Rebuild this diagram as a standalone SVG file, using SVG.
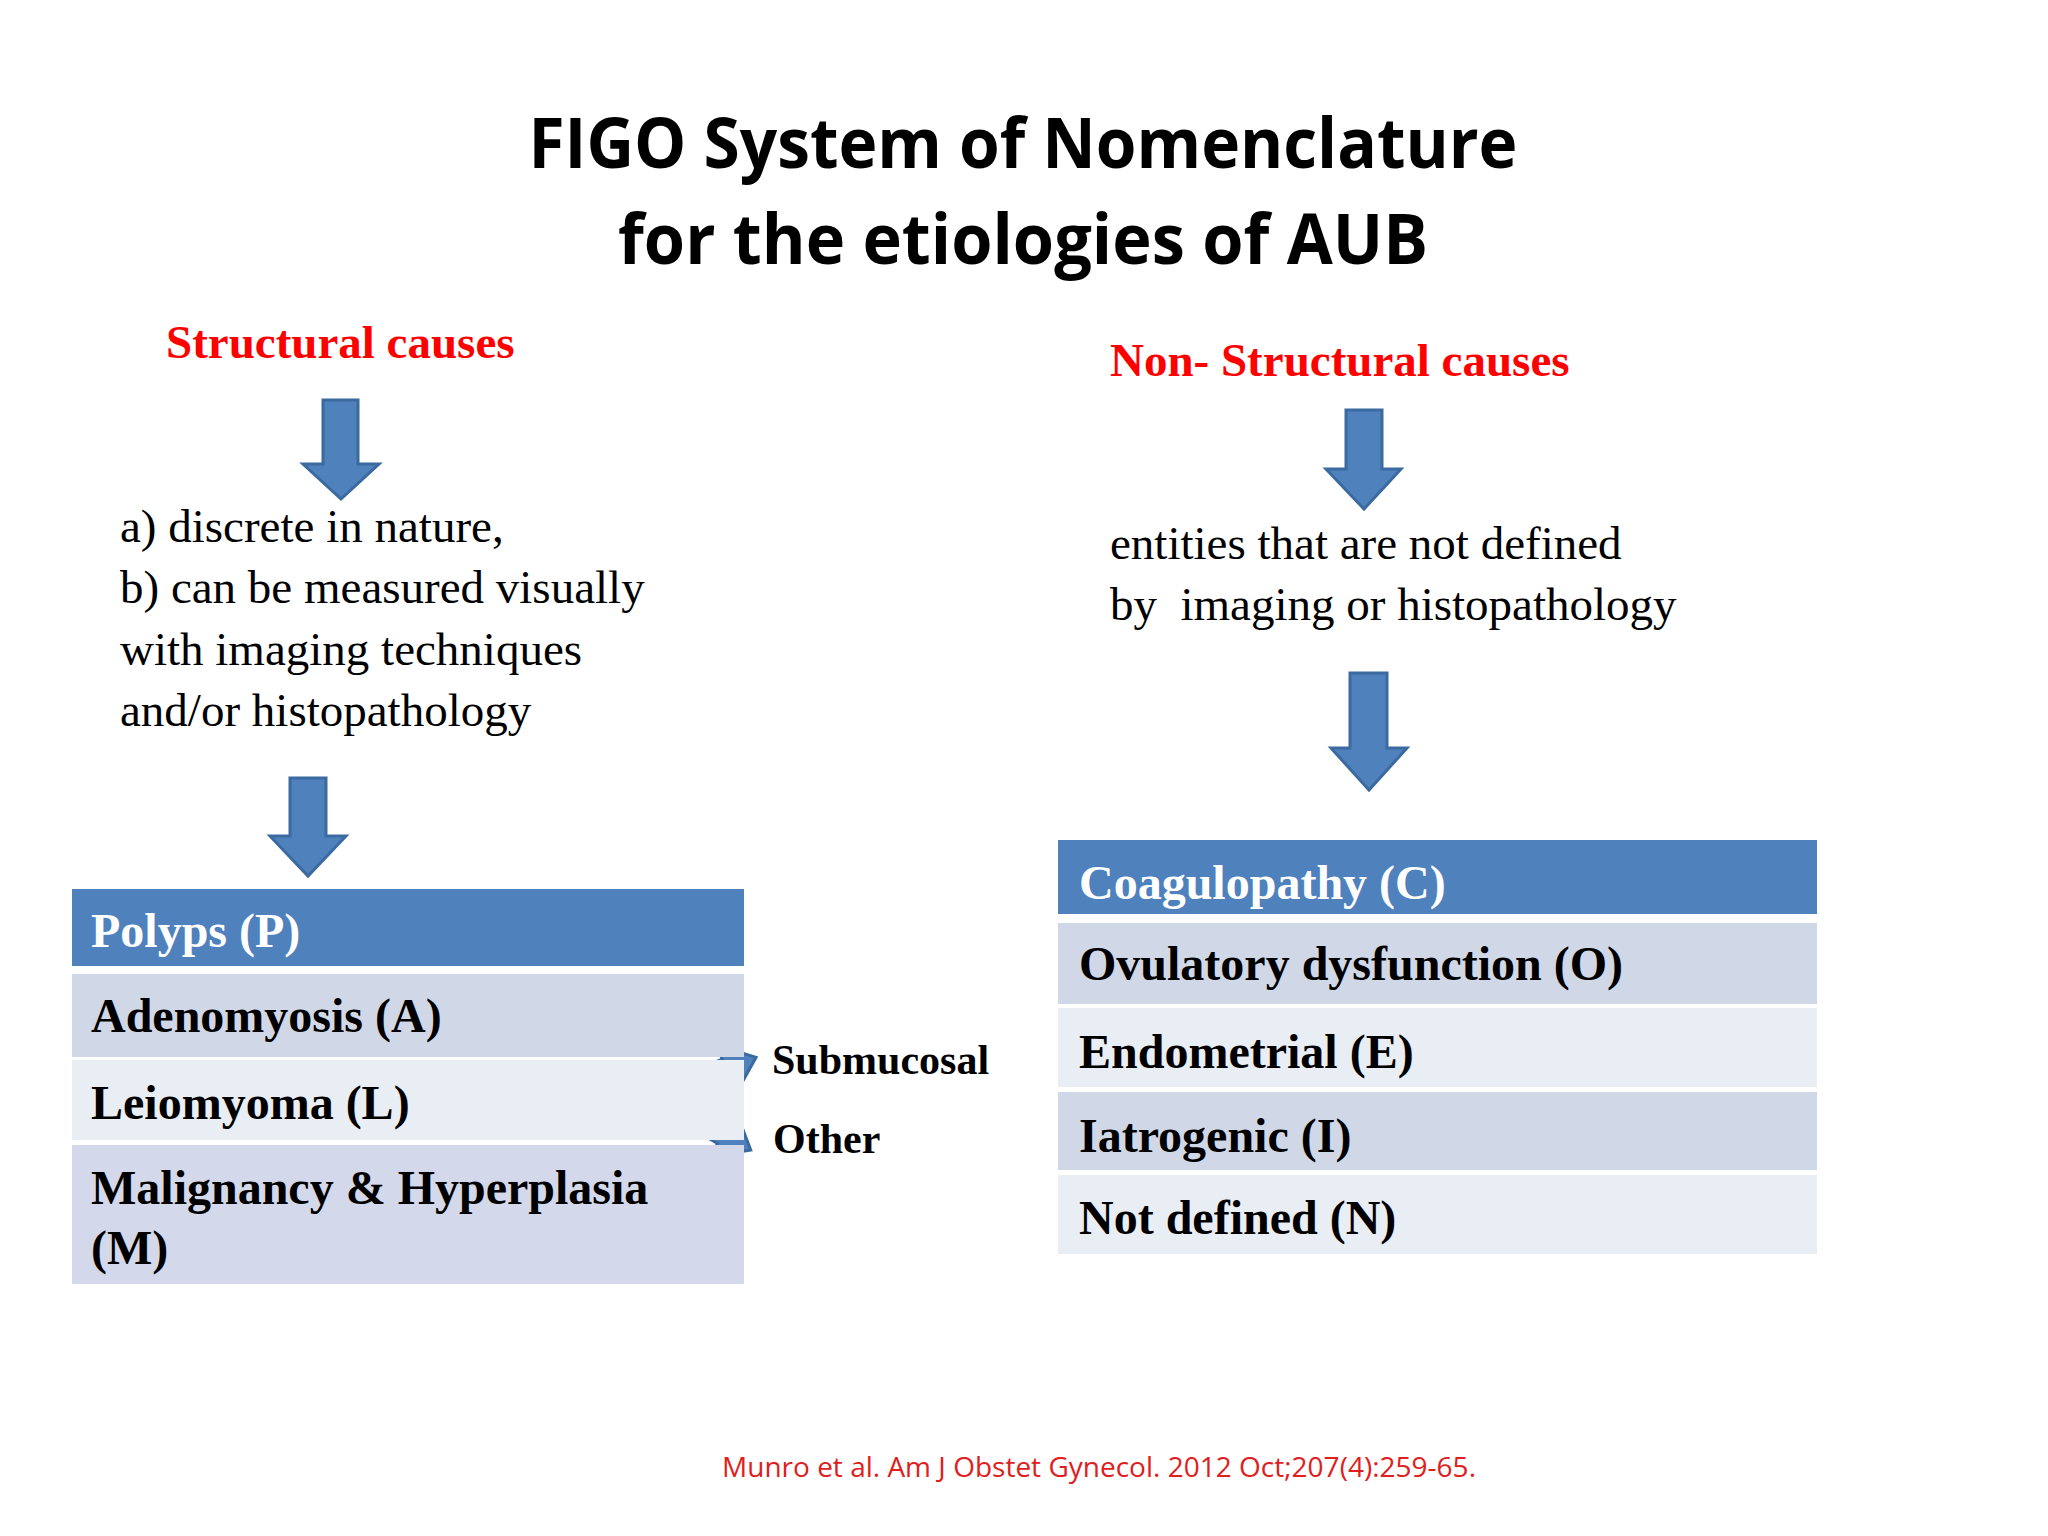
<svg xmlns="http://www.w3.org/2000/svg" width="2048" height="1536" viewBox="0 0 2048 1536">
<style>
.title{font-family:"Open Sans","Liberation Sans",sans-serif;font-weight:bold;font-size:70px;fill:#000}
.red{font-family:"Liberation Serif",serif;font-weight:bold;font-size:47px;fill:#ff0000}
.body{font-family:"Liberation Serif",serif;font-size:47px;fill:#000}
.cell{font-family:"Liberation Serif",serif;font-weight:bold;font-size:48px;fill:#000}
.hcell{font-family:"Liberation Serif",serif;font-weight:bold;font-size:48px;fill:#fff}
.lbl{font-family:"Liberation Serif",serif;font-weight:bold;font-size:42px;fill:#000}
.arr{fill:#4f81bd;stroke:#3b6aa0;stroke-width:3}
.hd{fill:#4f81bd}.r1{fill:#d0d8e8}.r2{fill:#e9edf4}.r3{fill:#d3d9ea}
</style>
<rect width="2048" height="1536" fill="#fff"/>
<text class="title" x="1023" y="168" text-anchor="middle" textLength="989" lengthAdjust="spacingAndGlyphs">FIGO System of Nomenclature</text>
<text class="title" x="1023" y="264" text-anchor="middle" textLength="810" lengthAdjust="spacingAndGlyphs">for the etiologies of AUB</text>
<text class="red" x="166" y="358">Structural causes</text>
<text class="red" x="1110" y="376">Non- Structural causes</text>
<g id="left-desc"><text class="body" x="120" y="542">a) discrete in nature,</text>
<text class="body" x="120" y="603">b) can be measured visually</text>
<text class="body" x="120" y="665">with imaging techniques</text>
<text class="body" x="120" y="726">and/or histopathology</text></g>
<g id="right-desc"><text class="body" x="1110" y="559">entities that are not defined</text>
<text class="body" x="1110" y="620" xml:space="preserve">by  imaging or histopathology</text></g>
<g id="connectors">
<polygon class="arr" points="323,400 358,400 358,464 379,464 341,499 303,464 323,464"/>
<polygon class="arr" points="290,778 326,778 326,836 346,836 308,876 270,836 290,836"/>
<polygon class="arr" points="1346,410 1382,410 1382,469 1401,469 1364,509 1326,469 1346,469"/>
<polygon class="arr" points="1350,673 1387,673 1387,748 1407,748 1369,790 1331,748 1350,748"/>
<polygon class="arr" transform="translate(680,1088) rotate(-22)" points="0,-11 50,-11 50,-26 82,0 50,26 50,11 0,11"/>
<polygon class="arr" transform="translate(678,1108) rotate(30)" points="0,-11 52,-11 52,-26 84,0 52,26 52,11 0,11"/>
</g>
<g id="left-table">
<rect class="hd" x="72" y="889" width="672" height="77"/><text class="hcell" x="91" y="947">Polyps (P)</text>
<rect class="r1" x="72" y="974" width="672" height="83"/><text class="cell" x="91" y="1032">Adenomyosis (A)</text>
<rect class="r2" x="72" y="1060" width="672" height="80"/><text class="cell" x="91" y="1119">Leiomyoma (L)</text>
<rect class="r3" x="72" y="1145" width="672" height="139"/><text class="cell" x="91" y="1204">Malignancy &amp; Hyperplasia</text><text class="cell" x="91" y="1264">(M)</text>
</g>
<text class="lbl" x="772" y="1074">Submucosal</text>
<text class="lbl" x="773" y="1153">Other</text>
<g id="right-table">
<rect class="hd" x="1058" y="840" width="759" height="74"/><text class="hcell" x="1079" y="899">Coagulopathy (C)</text>
<rect class="r1" x="1058" y="923" width="759" height="81"/><text class="cell" x="1079" y="980">Ovulatory dysfunction (O)</text>
<rect class="r2" x="1058" y="1008" width="759" height="79"/><text class="cell" x="1079" y="1068">Endometrial (E)</text>
<rect class="r1" x="1058" y="1092" width="759" height="78"/><text class="cell" x="1079" y="1152">Iatrogenic (I)</text>
<rect class="r2" x="1058" y="1175" width="759" height="79"/><text class="cell" x="1079" y="1234">Not defined (N)</text>
</g>
<text x="1099" y="1477" text-anchor="middle" font-family="Open Sans, Liberation Sans, sans-serif" font-size="27" fill="#e02020" textLength="754" lengthAdjust="spacingAndGlyphs">Munro et al. Am J Obstet Gynecol. 2012 Oct;207(4):259-65.</text>
</svg>
